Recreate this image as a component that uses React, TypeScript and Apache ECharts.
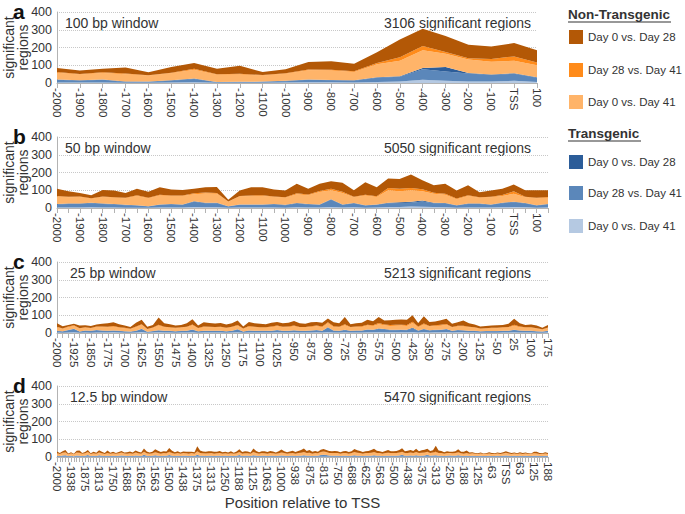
import React, { useEffect, useRef } from "react";
import * as echarts from "echarts";

const FONT = "'Liberation Sans', Arial, sans-serif";

const COLORS_NT = ["#B35806", "#FF8B1A", "#FFB469"];
const COLORS_T = ["#2C5D99", "#5B87BA", "#B5C9E2"];
const comparisons = ["Day 0 vs. Day 28", "Day 28 vs. Day 41", "Day 0 vs. Day 41"];
const groupNames = ["Non-Transgenic", "Transgenic"];

// ---------- Panel a: 100 bp window ----------
const ticksA = ["-2000","-1900","-1800","-1700","-1600","-1500","-1400","-1300","-1200","-1100","-1000","-900","-800","-700","-600","-500","-400","-300","-200","-100","TSS","100"];
const aT041 = [3,3,3,2,2,3,4,1,2,2,3,4,4,3,6,8,18,12,8,8,12,5];
const aT2841 = [15,10,15,4,5,10,18,3,4,5,7,14,11,10,24,27,60,53,45,37,40,25];
const aT028 = [2,2,2,2,1,2,3,1,1,1,2,2,2,2,2,3,7,25,4,3,3,2];
const aNT041 = [38,33,37,42,34,40,50,42,41,34,40,52,53,47,73,87,100,75,75,72,70,68];
const aNT2841 = [4,3,3,3,2,3,5,2,4,3,3,4,4,4,8,20,23,10,8,15,25,15];
const aNT028 = [23,19,20,35,16,32,33,31,45,17,23,42,48,42,60,100,97,90,75,70,75,70];

// ---------- Panel b: 50 bp window ----------
const ticksB = ["-2000","-1900","-1800","-1700","-1600","-1500","-1400","-1300","-1200","-1100","-1000","-900","-800","-700","-600","-500","-400","-300","-200","-100","TSS","100"];
const bT041 = [3,3,3,4,3,3,2,2,2,3,3,3,5,4,4,1,3,3,3,3,2,4,3,3,6,3,4,2,3,5,6,8,7,5,4,2,3,3,3,4,5,4,2,3];
const bT2841 = [17,20,20,23,20,17,14,12,7,15,17,15,30,23,23,8,15,15,15,17,14,21,17,15,40,15,21,12,15,22,22,22,29,22,21,12,20,19,15,23,27,21,12,17];
const bT028 = [2,2,2,3,2,2,2,1,1,2,2,2,3,3,3,1,2,2,2,2,2,3,2,2,4,2,3,1,2,3,4,5,6,3,3,1,2,3,2,3,3,3,1,2];
const bNT041 = [43,35,37,22,37,36,37,53,45,50,46,48,40,52,50,25,45,48,48,40,40,50,50,70,50,65,32,55,42,70,63,65,53,50,47,35,43,33,40,38,45,32,40,36];
const bNT2841 = [3,3,3,3,3,3,3,4,3,4,3,3,5,6,5,2,3,3,4,3,3,5,4,6,8,6,3,5,4,12,14,12,10,6,5,3,4,3,4,5,14,4,3,4];
const bNT028 = [41,31,20,17,37,37,27,36,33,43,33,31,26,29,34,10,30,46,45,39,37,53,33,40,43,51,37,70,51,54,55,77,52,42,56,45,56,28,34,35,38,36,42,38];

// ---------- Panel c: 25 bp window ----------
const ticksC = ["-2000","-1925","-1850","-1775","-1700","-1625","-1550","-1475","-1400","-1325","-1250","-1175","-1100","-1025","-950","-875","-800","-725","-650","-575","-500","-425","-350","-275","-200","-125","-50","25","100","175"];
const cT041 = [3,2,3,4,2,3,2,3,3,3, 4,3,2,2,3,5,2,3,4,3, 3,2,3,3,4,2,3,3,3,3, 2,3,4,2,3,3,3,3,3,4, 3,3,4,3,3,3,4,3,6,3, 3,4,3,3,3,4,4,5,4,4, 4,4,4,6,3,5,3,4,4,5, 3,4,4,3,3,2,2,2,2,3, 3,4,3,3,3,2,2,3];
const cT2841 = [8,7,12,18,6,10,9,12,10,8, 9,8,7,6,8,17,4,7,10,9, 8,7,8,9,14,7,9,9,8,9, 7,9,15,6,10,9,8,8,9,11, 9,9,10,8,9,10,11,9,24,10, 9,12,9,10,10,14,13,18,16,12, 12,13,12,20,10,15,11,12,13,16, 9,11,10,9,8,7,8,8,8,9, 9,13,10,9,8,7,5,8];
const cT028 = [1,1,2,2,1,1,1,2,1,1, 1,1,1,1,1,2,1,1,2,1, 1,1,1,1,2,1,1,1,1,1, 1,1,2,1,1,1,1,1,1,2, 1,1,2,1,1,1,2,1,3,1, 1,2,1,1,1,2,2,3,2,2, 2,2,2,3,1,2,2,2,2,2, 1,2,2,1,1,1,1,1,1,1, 1,2,1,1,1,1,1,1];
const cNT041 = [20,14,16,16,16,16,14,17,19,20, 21,18,16,13,20,22,14,17,26,19, 18,16,17,19,24,16,20,19,19,19, 17,19,20,14,21,19,18,18,20,21, 19,20,22,19,18,20,21,20,22,20, 19,26,18,19,20,22,20,24,21,22, 23,23,22,27,19,26,20,21,22,23, 18,20,21,19,17,13,14,15,16,16, 18,22,19,16,17,15,11,16];
const cNT2841 = [3,2,3,3,2,3,2,3,3,3, 4,3,3,2,4,4,2,3,5,3, 3,3,3,3,4,2,4,3,3,3, 3,3,4,2,4,3,3,3,4,4, 3,4,4,3,3,4,4,4,5,4, 3,6,3,3,4,5,4,6,5,5, 5,5,5,7,4,6,4,4,5,5, 3,4,4,3,3,2,2,3,3,3, 3,5,3,3,3,2,2,3];
const cNT028 = [20,12,9,9,15,11,12,11,16,20, 21,17,13,10,22,25,12,14,41,20, 17,13,13,20,30,14,23,21,20,21, 18,20,25,11,23,20,19,17,21,20, 20,21,26,21,18,22,20,21,22,22, 20,40,16,19,20,28,23,34,22,27, 29,29,29,37,19,41,22,22,26,29, 18,19,29,20,16,11,13,13,14,13, 18,34,19,13,16,15,9,14];

// ---------- Panel d: 12.5 bp window ----------
const ticksD = ["-2000","-1938","-1875","-1813","-1750","-1688","-1625","-1563","-1500","-1438","-1375","-1313","-1250","-1188","-1125","-1063","-1000","-938","-875","-813","-750","-688","-625","-563","-500","-438","-375","-313","-250","-188","-125","-63","TSS","63","125","188"];
const dT041 = [
  1,1,2,2,1,1,1,2,1,1,1,2,1,1,1,2,1,1,1,1,
  1,1,1,2,1,1,1,1,2,1,1,2,1,1,1,2,1,1,1,1,
  2,1,1,1,1,1,1,1,1,1,2,1,1,1,1,1,1,1,1,1,
  1,1,1,1,1,2,1,1,1,1,2,1,1,1,1,1,1,1,1,1,
  2,1,1,1,1,1,1,1,2,1,1,1,1,1,2,2,2,1,1,1,
  1,1,1,1,1,1,2,1,1,1,1,1,1,2,1,1,1,1,1,1,
  1,1,1,2,1,1,1,1,2,1,1,1,2,1,1,2,1,1,1,1,
  1,1,1,2,1,1,1,1,1,1,1,1,1,1,1,1,1,1,1,1,
  2,1,1,1,1,1,1,1,1,1,1,1,1,1,1,1];
const dT2841 = [
  5,4,6,7,4,5,3,6,5,4,5,8,4,5,4,7,5,4,5,4,
  5,4,5,6,5,4,5,4,6,5,4,9,5,4,5,7,5,4,5,5,
  8,5,4,5,4,5,5,4,5,4,9,5,5,4,5,5,4,5,5,4,
  5,4,5,4,5,8,4,5,5,4,7,5,4,5,5,4,5,5,4,5,
  6,5,4,5,5,4,5,5,7,5,5,4,5,5,8,9,8,6,5,5,
  5,4,5,5,4,5,7,5,5,4,5,5,5,7,5,5,4,5,5,5,
  5,5,6,8,5,5,6,5,7,5,5,6,8,5,6,7,5,5,4,5,
  6,5,5,7,5,4,5,4,5,4,4,5,4,4,5,4,4,5,4,5,
  6,5,4,5,4,5,4,5,4,4,5,5,4,4,5,4];
const dT028 = [
  1,0,1,1,0,1,0,1,1,0,1,1,0,1,0,1,1,0,1,0,
  1,0,1,1,1,0,1,0,1,1,0,2,1,0,1,1,1,0,1,1,
  1,1,0,1,0,1,1,0,1,0,2,1,1,0,1,1,0,1,1,0,
  1,0,1,0,1,1,0,1,1,0,1,1,0,1,1,0,1,1,0,1,
  1,1,0,1,1,0,1,1,1,1,1,0,1,1,1,2,1,1,1,1,
  1,0,1,1,0,1,1,1,1,0,1,1,1,1,1,1,0,1,1,1,
  1,1,1,2,1,1,1,1,1,1,1,1,2,1,1,1,1,1,0,1,
  1,1,1,1,1,0,1,0,1,0,0,1,0,0,1,0,0,1,0,1,
  1,1,0,1,0,1,0,1,0,0,1,1,0,0,1,0];
const dNT041 = [
  13,10,12,14,9,12,10,13,14,11,12,14,10,12,11,13,12,10,13,11,
  12,11,12,13,11,12,12,11,13,12,11,14,12,11,12,14,13,12,13,12,
  15,13,12,13,12,13,12,12,13,12,16,13,12,13,12,13,12,12,13,12,
  12,11,12,11,12,14,12,12,12,11,15,13,12,13,12,12,13,12,12,12,
  14,13,12,12,13,12,13,14,15,13,14,12,13,12,14,15,14,13,13,13,
  13,12,13,13,12,13,15,14,13,12,13,13,14,15,13,13,12,13,14,13,
  13,13,14,15,13,13,14,13,15,13,14,14,15,13,14,16,13,13,12,13,
  13,12,13,14,12,12,13,11,12,11,10,11,10,10,11,10,10,11,10,11,
  12,11,10,11,10,11,10,11,10,10,12,11,10,10,11,10];
const dNT2841 = [
  2,2,3,3,2,2,2,3,3,2,2,3,2,2,2,3,2,2,3,2,
  2,2,2,3,2,2,2,2,3,2,2,3,2,2,2,3,3,2,2,2,
  3,3,2,2,2,2,2,2,2,2,3,3,2,2,2,2,2,2,2,2,
  2,2,2,2,2,3,2,2,2,2,3,2,2,2,2,2,2,2,2,2,
  3,2,2,2,2,2,2,3,3,2,3,2,2,2,3,3,3,2,2,2,
  2,2,2,2,2,2,3,3,2,2,2,2,3,3,2,2,2,2,3,2,
  2,2,3,3,2,2,3,2,3,2,3,3,3,2,3,4,2,2,2,2,
  2,2,2,3,2,2,2,2,2,2,2,2,2,2,2,2,2,2,2,2,
  3,2,2,2,2,2,2,2,2,2,3,2,2,2,2,2];
const dNT028 = [
  9,5,8,12,4,6,3,10,13,5,7,11,4,9,6,12,8,5,14,6,
  8,5,7,9,6,8,10,7,12,9,8,18,10,7,9,16,12,9,11,10,
  22,12,8,10,6,9,8,10,7,8,28,14,10,9,12,11,10,9,12,8,
  9,7,12,6,10,16,9,11,10,8,20,12,8,10,11,9,12,10,7,11,
  16,11,8,10,13,9,12,15,20,12,16,10,12,9,13,14,12,11,10,12,
  11,8,10,12,9,11,17,14,12,9,11,12,15,18,13,10,9,12,16,11,
  10,12,14,20,11,13,15,12,18,11,14,16,17,12,13,33,14,12,8,10,
  7,9,11,16,8,10,14,8,6,5,4,6,3,4,7,5,4,6,5,7,
  9,7,5,6,4,7,5,6,4,3,7,9,6,4,7,5];

const windowLabels = ["100 bp window", "50 bp window", "25 bp window", "12.5 bp window"];
const regionLabels = ["3106 significant regions", "5050 significant regions", "5213 significant regions", "5470 significant regions"];
const panelLetters = ["a", "b", "c", "d"];
const windowSizes = [100, 50, 25, 12.5];
const tickSteps = [1, 2, 3, 5];

type Panel = {
  ticks: string[];
  nt: number[][]; // [0v28, 28v41, 0v41]
  t: number[][];
};

const panels: Panel[] = [
  { ticks: ticksA, nt: [aNT028, aNT2841, aNT041], t: [aT028, aT2841, aT041] },
  { ticks: ticksB, nt: [bNT028, bNT2841, bNT041], t: [bT028, bT2841, bT041] },
  { ticks: ticksC, nt: [cNT028, cNT2841, cNT041], t: [cT028, cT2841, cT041] },
  { ticks: ticksD, nt: [dNT028, dNT2841, dNT041], t: [dT028, dT2841, dT041] },
];

// layout
const GRID_LEFT = 57;
const GRID_TOPS = [12, 137, 262, 386];
const GRID_H = 71;
const GRID_RIGHT = [148, 137, 137, 137];

export default function App() {
  const ref = useRef<HTMLDivElement>(null);

  useEffect(() => {
    if (!ref.current) return;
    const chart = echarts.init(ref.current, null, { renderer: "svg" });

    const grids: any[] = [];
    const xAxes: any[] = [];
    const yAxes: any[] = [];
    const series: any[] = [];
    const graphics: any[] = [];

    panels.forEach((p, pi) => {
      const n = p.nt[0].length;
      const cats = p.nt[0].map((_, i) => String(-2000 + i * windowSizes[pi]));
      const step = tickSteps[pi];
      grids.push({
        left: GRID_LEFT,
        right: GRID_RIGHT[pi],
        top: GRID_TOPS[pi],
        height: GRID_H,
        containLabel: false,
        outerBoundsMode: "none",
      });
      xAxes.push({
        type: "category",
        gridIndex: pi,
        data: cats,
        boundaryGap: false,
        axisLine: { lineStyle: { color: "#b3b3b3", width: 1 } },
        axisTick: { interval: 0, length: 5, lineStyle: { color: "#b3b3b3" } },
        axisLabel: {
          interval: step - 1,
          rotate: -90,
          margin: 5,
          fontSize: 11.5,
          color: "#333",
          fontFamily: FONT,
          formatter: (v: string) => {
            const idx = cats.indexOf(v);
            return idx % step === 0 ? p.ticks[idx / step] ?? "" : "";
          },
        },
        splitLine: { show: false },
        name: pi === 3 ? "Position relative to TSS" : "",
        nameLocation: "middle",
        nameGap: 38,
        nameMoveOverlap: false,
        nameTextStyle: { fontSize: 15, color: "#333", fontFamily: FONT },
      });
      yAxes.push({
        type: "value",
        gridIndex: pi,
        min: 0,
        max: 400,
        interval: 100,
        axisLine: { show: true, lineStyle: { color: "#b3b3b3" } },
        axisTick: { show: false },
        axisLabel: { fontSize: 12.5, color: "#333", fontFamily: FONT, margin: 5 },
        splitLine: { lineStyle: { color: "#c8c8c8", type: "dotted", width: 1 } },
        name: "significant\nregions",
        nameLocation: "middle",
        nameGap: 27,
        nameMoveOverlap: false,
        nameTextStyle: { fontSize: 14, lineHeight: 14, color: "#333", fontFamily: FONT },
      });

      const stackOrder: { key: string; data: number[]; color: string }[] = [
        { key: "Transgenic|" + comparisons[2], data: p.t[2], color: COLORS_T[2] },
        { key: "Transgenic|" + comparisons[1], data: p.t[1], color: COLORS_T[1] },
        { key: "Transgenic|" + comparisons[0], data: p.t[0], color: COLORS_T[0] },
        { key: "Non-Transgenic|" + comparisons[2], data: p.nt[2], color: COLORS_NT[2] },
        { key: "Non-Transgenic|" + comparisons[1], data: p.nt[1], color: COLORS_NT[1] },
        { key: "Non-Transgenic|" + comparisons[0], data: p.nt[0], color: COLORS_NT[0] },
      ];
      stackOrder.forEach((s) => {
        series.push({
          type: "line",
          name: s.key,
          xAxisIndex: pi,
          yAxisIndex: pi,
          stack: "panel" + pi,
          data: s.data.slice(0, n),
          symbol: "none",
          color: s.color,
          lineStyle: { width: 0 },
          areaStyle: { color: s.color, opacity: 1 },
          emphasis: { disabled: true },
        });
      });

      const top = GRID_TOPS[pi];
      graphics.push({
        type: "text",
        x: 13,
        y: top - 1,
        style: { text: panelLetters[pi], fontSize: 21, fontWeight: "bold", fill: "#111", fontFamily: FONT, verticalAlign: "middle" },
      });
      graphics.push({
        type: "text",
        x: pi < 2 ? 65 : 70,
        y: top + 11,
        style: { text: windowLabels[pi], fontSize: 14, fill: "#333", fontFamily: FONT, verticalAlign: "middle" },
      });
      graphics.push({
        type: "text",
        x: 531,
        y: top + 11,
        style: { text: regionLabels[pi], fontSize: 14, fill: "#333", fontFamily: FONT, align: "right", verticalAlign: "middle" },
      });
    });

    // custom legend (two groups with underlined headings)
    const legendGroups = [
      { title: groupNames[0], titleY: 14, underline: 671, itemYs: [37, 70, 102], colors: COLORS_NT },
      { title: groupNames[1], titleY: 133, underline: 641, itemYs: [162, 193, 226], colors: COLORS_T },
    ];
    legendGroups.forEach((g) => {
      graphics.push({
        type: "text", x: 568, y: g.titleY,
        style: { text: g.title, fontSize: 13.5, fontWeight: "bold", fill: "#333", fontFamily: FONT, verticalAlign: "middle" },
      });
      graphics.push({
        type: "line",
        shape: { x1: 568, y1: g.titleY + 8, x2: g.underline, y2: g.titleY + 8 },
        style: { stroke: "#333", lineWidth: 1.2 },
      });
      comparisons.forEach((c, ci) => {
        graphics.push({
          type: "rect",
          shape: { x: 569, y: g.itemYs[ci] - 7, width: 14, height: 14 },
          style: { fill: g.colors[ci] },
        });
        graphics.push({
          type: "text", x: 588, y: g.itemYs[ci],
          style: { text: c, fontSize: 11.5, fill: "#333", fontFamily: FONT, verticalAlign: "middle" },
        });
      });
    });

    chart.setOption({
      animation: false,
      textStyle: { fontFamily: FONT },
      grid: grids,
      xAxis: xAxes,
      yAxis: yAxes,
      series,
      graphic: graphics,
    });

    return () => chart.dispose();
  }, []);

  return (
    <div
      ref={ref}
      style={{ position: "fixed", left: 0, top: 0, width: 685, height: 514, background: "#fff" }}
    />
  );
}
